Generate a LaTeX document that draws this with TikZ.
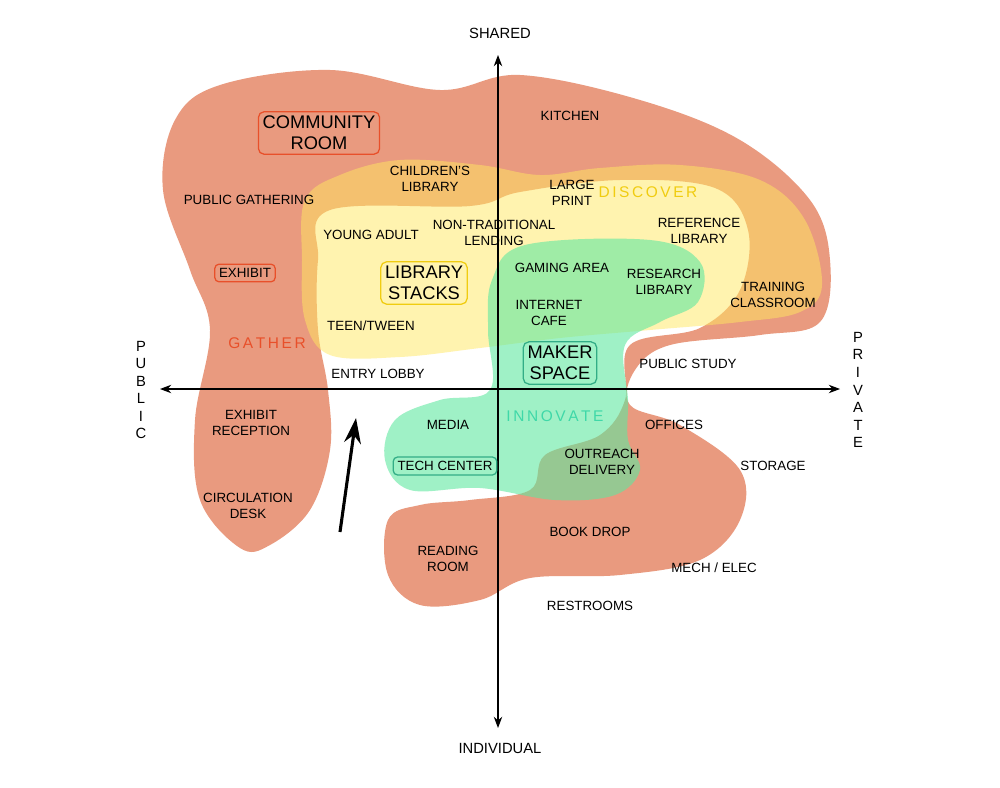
\documentclass[tikz,border=0pt]{standalone}
\usepackage{fontspec}
\setmainfont{Liberation Sans}
\usetikzlibrary{arrows.meta}
\definecolor{blobred}{HTML}{E99A7F}
\definecolor{blobyellow}{HTML}{FFE860}
\definecolor{blobgreen}{HTML}{60E8A0}
\definecolor{gatherred}{HTML}{E8502A}
\definecolor{discoveryellow}{HTML}{F0CC10}
\definecolor{innovategreen}{HTML}{3FD8A8}
\tikzset{
  room/.style={font=\fontsize{9.5}{11.5}\selectfont, align=center, inner sep=1pt},
  bigroom/.style={font=\fontsize{13}{15}\selectfont, align=center, rounded corners=4pt, line width=0.9pt, inner sep=3pt},
  smallbox/.style={room, rounded corners=3pt, line width=0.9pt, inner sep=3pt},
  zone/.style={font=\fontsize{11}{13}\selectfont, inner sep=1pt},
  axislabel/.style={font=\fontsize{10.5}{13}\selectfont, align=center, inner sep=1pt}
}
\begin{document}
\begin{tikzpicture}[x=0.025cm,y=-0.025cm]
  \useasboundingbox (0,0) rectangle (1000,788);
  \fill[white] (0,0) rectangle (1000,788);
  % red zone
  \fill[blobred] plot[smooth cycle, tension=0.6] coordinates {
    (240,548) (200,500) (195,420) (210,330) (190,270) (163,190) (175,120)
    (220,85) (330,70) (440,90) (520,75) (640,100) (740,140) (810,200)
    (830,260) (820,322) (760,335) (670,345) (635,370) (630,405) (680,425)
    (740,470) (740,520) (700,560) (620,575) (530,578) (480,600) (420,605)
    (388,575) (388,520) (420,505) (470,500) (530,490) (545,455) (600,435)
    (625,400) (630,345) (700,328) (740,290) (748,230) (715,188) (620,180)
    (520,192) (470,206) (330,210) (318,260) (318,330) (328,390) (330,450)
    (310,510) (270,545)};
  % yellow zone
  \fill[blobyellow, opacity=0.5] plot[smooth cycle, tension=0.6] coordinates {
    (305,200) (340,175) (400,160) (480,165) (540,175) (600,168) (680,165)
    (760,180) (805,220) (822,285) (800,312) (740,322) (650,330) (560,338)
    (480,348) (400,357) (330,355) (305,320) (302,260)};
  % green zone
  \fill[blobgreen, opacity=0.6] plot[smooth cycle, tension=0.6] coordinates {
    (525,245) (650,240) (700,262) (698,302) (660,322) (625,345) (628,400)
    (628,440) (640,470) (615,495) (555,500) (480,488) (410,490) (385,460)
    (395,420) (440,400) (490,390) (488,330) (492,280)};
  % axes
  \coordinate (west) at (160,389);
  \coordinate (east) at (840,389);
  \coordinate (north) at (498,55);
  \coordinate (south) at (498,728);
  \draw[{Stealth[length=8pt]}-{Stealth[length=8pt]}, line width=0.8pt] (west) -- (east);
  \draw[{Stealth[length=8pt]}-{Stealth[length=8pt]}, line width=0.8pt] (north) -- (south);
  \node[axislabel] (shared) at (500,33) {SHARED};
  \node[axislabel] (individual) at (500,748) {INDIVIDUAL};
  \node[axislabel, font=\fontsize{10.5}{12.5}\selectfont] (public) at (141,390) {P\\U\\B\\L\\I\\C};
  \node[axislabel, font=\fontsize{10.5}{12.5}\selectfont] (private) at (858,390) {P\\R\\I\\V\\A\\T\\E};
  % entry arrow
  \coordinate (arrowtail) at (340,532);
  \coordinate (arrowhead) at (356,418);
  \draw[-{Stealth[length=18pt,width=12pt]}, line width=2.2pt] (arrowtail) -- (arrowhead);
  % boxed spaces
  \node[bigroom, draw=gatherred] (community) at (319,133) {COMMUNITY\\ROOM};
  \node[smallbox, draw=gatherred] (exhibit) at (245,273) {EXHIBIT};
  \node[bigroom, draw=discoveryellow] (stacks) at (424,283) {LIBRARY\\STACKS};
  \node[bigroom, draw=innovategreen!80!black] (maker) at (560,363) {MAKER\\SPACE};
  \node[smallbox, draw=innovategreen!80!black] (tech) at (445,466) {TECH CENTER};
  % zone names
  \node[zone, text=gatherred] (gather) at (267,343) {G\,A\,T\,H\,E\,R};
  \node[zone, text=discoveryellow] (discover) at (648,192) {D\,I\,S\,C\,O\,V\,E\,R};
  \node[zone, text=innovategreen] (innovate) at (555,416) {I\,N\,N\,O\,V\,A\,T\,E};
  % rooms
  \node[room] (kitchen) at (570,116) {KITCHEN};
  \node[room] (children) at (430,179) {CHILDREN'S\\LIBRARY};
  \node[room] (largeprint) at (572,193) {LARGE\\PRINT};
  \node[room] (gathering) at (249,200) {PUBLIC GATHERING};
  \node[room] (youngadult) at (371,235) {YOUNG ADULT};
  \node[room] (lending) at (494,233) {NON-TRADITIONAL\\LENDING};
  \node[room] (reference) at (699,231) {REFERENCE\\LIBRARY};
  \node[room] (gaming) at (562,268) {GAMING AREA};
  \node[room] (research) at (664,282) {RESEARCH\\LIBRARY};
  \node[room] (training) at (773,295) {TRAINING\\CLASSROOM};
  \node[room] (cafe) at (549,313) {INTERNET\\CAFE};
  \node[room] (teen) at (371,326) {TEEN/TWEEN};
  \node[room] (lobby) at (378,374) {ENTRY LOBBY};
  \node[room] (study) at (688,364) {PUBLIC STUDY};
  \node[room] (reception) at (251,423) {EXHIBIT\\RECEPTION};
  \node[room] (media) at (448,425) {MEDIA};
  \node[room] (offices) at (674,425) {OFFICES};
  \node[room] (outreach) at (602,462) {OUTREACH\\DELIVERY};
  \node[room] (storage) at (773,466) {STORAGE};
  \node[room] (circulation) at (248,506) {CIRCULATION\\DESK};
  \node[room] (bookdrop) at (590,532) {BOOK DROP};
  \node[room] (reading) at (448,559) {READING\\ROOM};
  \node[room] (mech) at (714,568) {MECH / ELEC};
  \node[room] (restrooms) at (590,606) {RESTROOMS};
\end{tikzpicture}
\end{document}
